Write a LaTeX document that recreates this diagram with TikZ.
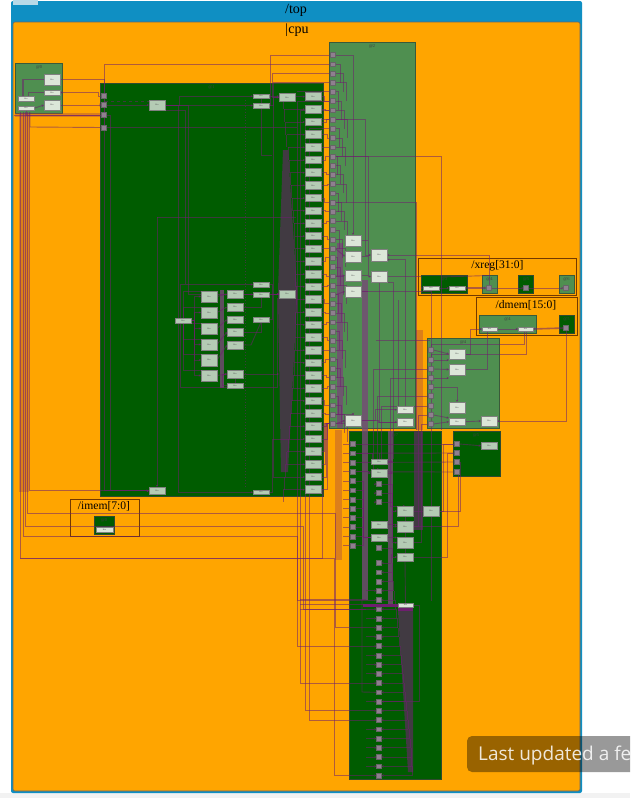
\documentclass[tikz,border=0pt]{standalone}
\usepackage{fontspec}
\setmainfont{Liberation Serif}
\newfontfamily\toastfont{Open Sans}
\usetikzlibrary{arrows.meta}
\pgfdeclarelayer{blocklayer}
\pgfdeclarelayer{wirelayer}
\pgfsetlayers{blocklayer,wirelayer,main}
\definecolor{hdr}{HTML}{0F8FC3}
\definecolor{org}{HTML}{FFA500}
\definecolor{dgreen}{HTML}{005C00}
\definecolor{lgreen}{HTML}{4F8F50}
\definecolor{purp}{HTML}{6E1F6E}
\definecolor{fan}{HTML}{413A42}
\definecolor{sdkfill}{HTML}{B4CBB4}
\definecolor{sltfill}{HTML}{DCE6D8}
\definecolor{ptfill}{HTML}{8F7F8F}
\definecolor{dkedge}{HTML}{2F4A2F}
\definecolor{ltedge}{HTML}{3A5A3A}
\tikzset{
 shp/.style={inner sep=0pt,outer sep=0pt,line width=.8pt},
 dkblk/.style={shp,draw=dkedge,fill=dgreen},
 ltblk/.style={shp,draw=ltedge,fill=lgreen},
 grp/.style={shp,draw=black!55!orange,line width=1pt,fill=org},
 lab/.style={font=\fontsize{4.5}{5}\selectfont,text=black!75,inner sep=0pt},
 sdk/.style={shp,draw=black!50,line width=.8pt,fill=sdkfill,font=\fontsize{2}{2.4}\selectfont,text=black!70,align=center},
 slt/.style={shp,draw=black!50,line width=.8pt,fill=sltfill,font=\fontsize{2}{2.4}\selectfont,text=black!70,align=center},
 pt/.style={shp,draw=black!60,line width=.6pt,fill=ptfill,minimum size=4.8pt},
 wire/.style={draw=purp,line width=.9pt,opacity=.55},
 arr/.style={wire,-{Stealth[length=2.4pt,width=2.6pt,color=purp]}},
 band/.style={fill=purp!55!gray,draw=none,opacity=.8},
 redband/.style={fill=purp!60!orange,draw=none,opacity=.4},
 grpt/.style={font=\fontsize{11.6}{13}\selectfont,inner sep=0pt},
 topt/.style={font=\fontsize{14}{16}\selectfont,inner sep=0pt}
}
\newcommand\blk[7]{\node[#2,minimum width={((#5)-(#3))*1pt},minimum height={((#6)-(#4))*1pt}] (#1) at ({((#3)+(#5))/2},{((#4)+(#6))/2}) {#7};}
\newcommand\hvh[4][wire]{\coordinate (tmpc) at (#3,0);\draw[#1] (#2) -- (#2 -| tmpc) -- (tmpc |- #4) -- (#4);}
\newcommand\vhv[4][wire]{\coordinate (tmpc) at (0,#3);\draw[#1] (#2) -- (#2 |- tmpc) -- (#4 |- tmpc) -- (#4);}
\begin{document}
\begin{tikzpicture}[x=1pt,y=-1pt]
\useasboundingbox (0,0) rectangle (630,798);
\begin{pgfonlayer}{blocklayer}
 \fill[white] (0,0) rectangle (630,798);
 \fill[black!5] (0,793) rectangle (630,798);
 \fill[hdr,rounded corners=2pt] (11,1) rectangle (582,793);
 \fill[black!10!hdr!30!white] (13,0) rectangle (38,5);
 \node[shp,fill=org,draw=black!60,line width=.6pt,rounded corners=2pt,minimum width=567pt,minimum height=769pt] (cpu) at (296.5,406.5) {};
 \blk{xreg}{grp}{418.5}{258.5}{576}{295}{}
 \blk{dmem}{grp}{476}{297.5}{577}{335}{}
 \blk{imem}{grp}{70}{499}{139}{536}{}
 \blk{bk0}{ltblk}{15.5}{63}{62}{113}{}
 \blk{bk1}{dkblk}{100}{83}{323}{496.5}{}
 \blk{bk2}{ltblk}{329}{42}{415.5}{428}{}
 \blk{bk3}{dkblk}{421}{275.5}{467}{293.5}{}
 \blk{bk4}{ltblk}{482.5}{275.5}{497}{293}{}
 \blk{bk5}{dkblk}{518.5}{275.5}{533}{293}{}
 \blk{bk6}{ltblk}{559.5}{275.5}{574}{293}{}
 \blk{bk7}{ltblk}{479.5}{315.5}{536}{333}{}
 \blk{bk8}{dkblk}{559.5}{315.5}{574}{333}{}
 \blk{bk9}{ltblk}{427}{338}{499.5}{428}{}
 \blk{bk10}{dkblk}{349}{431}{441.5}{779}{}
 \blk{bk11}{dkblk}{453}{431}{500}{476}{}
 \blk{bk12}{dkblk}{94}{516.5}{114}{534}{}
\end{pgfonlayer}
% titles
\node[topt] (ttop) at (296,10.5) {/top};
\node[topt] (tcpu) at (297,30.5) {|cpu};
\node[grpt] (txreg) at (497.5,265.5) {/xreg[31:0]};
\node[grpt] (tdmem) at (526,305) {/dmem[15:0]};
\node[grpt] (timem) at (104,506.5) {/imem[7:0]};
\node[lab] (l0) at (39,67) {@0};
\node[lab] (l1) at (211.5,87.5) {@1};
\node[lab] (l2) at (372,46) {@2};
\node[lab] (l3) at (444,279.5) {@3};
\node[lab] (l4) at (489.5,279.5) {@4};
\node[lab] (l5) at (526,279.5) {@5};
\node[lab] (l6) at (566.5,279.5) {@6};
\node[lab] (l7) at (507.5,319.5) {@4};
\node[lab] (l8) at (566.5,319.5) {@5};
\node[lab] (l9) at (463,342) {@4};
\node[lab] (l10) at (395,435) {@7};
\node[lab] (l11) at (476,435) {@5};
\node[lab] (l12) at (104,520) {@0};
% ports
\foreach \i in {0,...,40}{\node[pt] (a\i) at (333,{55+9.22*\i}) {};}
\foreach \i in {0,...,11}{\node[pt] (e\i) at (353,{444+9.24*\i}) {};}
\foreach \i in {0,...,23}{\node[pt] (c\i) at (379,{563+9.24*\i}) {};}
\node[pt] (d0) at (379,484) {};
\node[pt] (d1) at (379,493) {};
\node[pt] (d2) at (379,502) {};
\node[pt] (d3) at (379,548) {};
\node[pt] (p0) at (104,96) {};
\node[pt] (p1) at (104,105) {};
\node[pt] (p2) at (104,115) {};
\node[pt] (p3) at (104,127.5) {};
\node[pt] (x4) at (489,288) {};
\node[pt] (x5) at (526,288) {};
\node[pt] (x6) at (566,288) {};
\node[pt] (y5) at (566,328) {};
\foreach \i/\y in {0/350,1/360,2/369,3/378,4/387,5/396,6/406,7/415,8/424}{\node[pt] (g\i) at (431,\y) {};}
\foreach \i/\y in {0/444,1/453,2/462,3/472}{\node[pt] (h\i) at (457,\y) {};}
% small nodes
\foreach \i in {0,...,31}{\blk{r\i}{sdk}{305}{96.6+12.68*\i-3.8}{321}{96.6+12.68*\i+3.8}{Bits}}
\blk{t1}{slt}{44}{74}{60}{85}{Bits}
\blk{t2}{slt}{44}{90}{60}{95}{Bits}
\blk{t3}{slt}{44}{100}{60}{110}{Bits}
\blk{l1n}{slt}{18}{96.5}{34}{101}{Bits}
\blk{l2n}{slt}{18}{106}{34}{110.5}{Bits}
\blk{im}{slt}{96}{527}{113}{532}{Bits}
\blk{m1}{sdk}{149}{100}{165}{110}{Bits}
\blk{s1}{sdk}{253}{94}{269}{98.5}{Bits}
\blk{s2}{sdk}{253}{103}{269}{108}{Bits}
\blk{s3}{sdk}{253}{282}{269}{287}{Bits}
\blk{s4}{sdk}{253}{292}{269}{297}{Bits}
\blk{s5}{sdk}{253}{317}{269}{322}{Bits}
\blk{s6}{sdk}{253}{490}{269}{494.5}{Bits}
\blk{f0}{sdk}{279}{93.5}{295}{101.5}{Bits}
\blk{f1}{sdk}{279}{290}{295}{298}{Bits}
\blk{k0}{sdk}{175}{318}{191}{323}{Bits}
\blk{v1}{sdk}{149}{487}{165}{494.5}{Bits}
\foreach \i/\a/\b in {0/291/302,1/307/318,2/323/334,3/339/350,4/354/366,5/370/381}{\blk{mx\i}{sdk}{201}{\a}{217}{\b}{Bits}}
\foreach \i/\a/\b in {0/290/298,1/303/311,2/316/323,3/328/336,4/341/349,5/370/378,6/383/388}{\blk{dx\i}{sdk}{227}{\a}{243}{\b}{Bits}}
\blk{ua}{slt}{345}{235}{361}{246}{Bits}
\blk{ub}{slt}{345}{251}{361}{262}{Bits}
\blk{uc}{slt}{345}{270}{361}{281}{Bits}
\blk{ud}{slt}{345}{286}{361}{297}{Bits}
\blk{ue}{slt}{371}{249}{387}{261}{Bits}
\blk{uf}{slt}{371}{271}{387}{282}{Bits}
\blk{ug}{slt}{345}{415}{361}{426}{Bits}
\blk{uh}{slt}{397}{406}{413}{413.5}{Bits}
\blk{ui}{slt}{397}{418}{413}{426}{Bits}
\blk{xa}{slt}{423}{286}{439}{290}{Bits}
\blk{xb}{slt}{449}{286}{465}{290}{Bits}
\blk{ya}{slt}{482}{327}{497}{331}{Bits}
\blk{yb}{slt}{518}{327}{533}{331}{Bits}
\blk{na}{slt}{449}{349}{465}{359}{Bits}
\blk{nb}{slt}{449}{364}{465}{375}{Bits}
\blk{nc}{slt}{449}{402}{465}{413}{Bits}
\blk{nd}{slt}{449}{418}{465}{425.5}{Bits}
\blk{ne}{slt}{481}{416}{497}{426}{Bits}
\blk{q1}{sdk}{481}{442}{497}{449.5}{Bits}
\blk{w1}{sdk}{371}{459}{387}{464}{Bits}
\blk{w2}{sdk}{371}{469}{387}{477}{Bits}
\blk{w3}{sdk}{371}{521}{387}{528.5}{Bits}
\blk{w4}{sdk}{371}{534}{387}{541}{Bits}
\blk{w5}{sdk}{397}{506}{413}{516}{Bits}
\blk{w6}{sdk}{397}{521}{413}{532}{Bits}
\blk{w7}{sdk}{397}{537.5}{413}{548}{Bits}
\blk{w8}{sdk}{397}{553}{413}{561}{Bits}
\blk{w9}{sdk}{423}{506}{439}{516}{Bits}
\blk{w10}{slt}{398}{603}{413}{607}{Bits}
\begin{pgfonlayer}{wirelayer}
 % fans and bundles
 \fill[fan] (283,150) -- (288,150) -- (297,290) -- (297,300) -- (288,472) -- (281,472) -- (278,300) -- (278,290) -- cycle;
 \fill[fan] (398,611) -- (413,611) -- (413,772) -- (408,772) -- cycle;
 \fill[fan] (414,431) rectangle (423,530);
 \fill[purp] (398,607) rectangle (413,611);
 \fill[purp] (363,604) rectangle (398,607);
 \fill[band] (337,243) rectangle (343,428);
 \fill[band] (362,280) rectangle (368,600);
 \fill[band] (388,431) rectangle (393,604);
 \fill[band] (220,290) rectangle (224,388);
 \fill[redband] (416,330) rectangle (423,430);
 \fill[redband] (335,430) rectangle (342,560);
 \fill[redband] (19,113) rectangle (29,492);
 \fill[redband] (15,113) rectangle (100,117);
 % u1 column
 \foreach \i in {0,...,31}{
  \pgfmathsetmacro\yy{96.6+12.68*\i}
  \pgfmathsetmacro\xs{283+13*sin(\i/31*180)}
  \coordinate (fs\i) at (\xs,\yy);
  \coordinate (ft\i) at (\xs,\yy+12.68);
  \draw[arr] (fs\i) -- (r\i.west);
  \draw[wire] (fs\i) -- (ft\i);
  \pgfmathtruncatemacro\jj{min(40,round((\yy-55)/9.22))}
  \pgfmathsetmacro\xv{324.5+mod(\i,4)}
  \hvh{r\i.east}{\xv}{a\jj.west}
 }
 % u2 stairs
 \foreach \i in {1,...,40}{
  \pgfmathsetmacro\xs{337+mod(\i*3,11)}
  \coordinate (as\i) at (\xs,{55+9.22*\i});
  \coordinate (at\i) at (\xs,{55+9.22*(\i+2)});
  \draw[wire] (a\i.east) -- (as\i) -- (at\i);
 }
 % u10
 \draw[wire,line width=1.1pt] (l1n.north) ++(-3,0) |- (t1.west);
 \draw[wire] (l1n.north) ++(2,0) |- (t2.west);
 \draw[arr,line width=1pt] (l2n.east) -- (t3.west);
 \draw[wire] (t1.east) -| (p0.north);
 \draw[arr] (p0.west) -- ++(-3,0) |- (t2.east);
 \draw[arr] (t3.east) -- (p1.west);
 \draw[wire] (l2n.south) |- (p2.west);
 \coordinate (bn0) at (14,115);
 \draw[wire] (bn0) -- (p2.west);
 \coordinate (bn1) at (20,112);\coordinate (bn2) at (23,112);\coordinate (bn3) at (25,112);\coordinate (bn4) at (27,112);\coordinate (bn5) at (29,112);\coordinate (bn6) at (30,112);
 \coordinate (z1) at (20,558);\coordinate (z2) at (334,558);\draw[wire] (bn1) -- (z1) -- (z2);\draw[arr] (z2) |- (c23.west);
 \coordinate (z3) at (23,536);\coordinate (z4) at (297,536);\draw[wire] (bn2) -- (z3) -- (z4);\draw[arr] (z4) |- (c4.west);
 \coordinate (z5) at (25,526);\coordinate (z6) at (303,526);\draw[wire] (bn3) -- (z5) -- (z6);\draw[arr] (z6) |- (c5.west);
 \coordinate (z7) at (27,513);\coordinate (z8) at (335,513);\draw[wire] (bn4) -- (z7) -- (z8);\draw[arr] (z8) |- (c7.west);
 \draw[arr] (bn5) |- (v1.west);
 \coordinate (z9) at (30,127);\draw[wire] (bn6) -- (z9) -- (p3.west);
 % u2 to top of u1
 \draw[wire] (a1.west) -| (p3.north);
 \hvh{a0.west}{270}{s2.east}
 \hvh{a2.west}{272}{f0.west}
 \hvh{a3.west}{273}{fs30}
 \coordinate (z10) at (297,125);\draw[wire] (a4.west) -- (a4.west -| z10);
 \hvh[arr]{a5.west}{297}{c9.west}
 \hvh[arr]{a6.west}{300}{c13.west}
 \hvh[arr]{a7.west}{305}{c16.west}
 \hvh[arr]{a8.west}{309}{c17.west}
 \hvh{r31.east}{322}{z1}
 % u1 interior
 \draw[arr] (p0.south) |- (v1.west);
 \draw[arr] (p1.east) -- (m1.west);
 \hvh[arr]{p2.east}{110.7}{v1.west}
 \draw[wire] (p3.east) -- (p3.east -| z10);
 \coordinate (z11) at (105,101);\draw[wire,dashed,line width=.4pt] (z11) -- (z11 -| m1.west);
 \hvh[arr]{m1.east}{179}{s1.west}
 \hvh[arr]{m1.east}{182}{s2.west}
 \hvh[arr]{m1.east}{178}{s6.west}
 \hvh[arr]{m1.south}{185}{s3.west}
 \hvh[arr]{m1.east}{188}{s4.west}
 \draw[arr] (s1.east) -- (s1.east -| f0.west);
 \hvh[arr]{s2.east}{273}{f0.west}
 \hvh[arr]{s3.east}{272}{f1.west}
 \hvh[arr]{s4.east}{276}{f1.west}
 \hvh{s5.east}{272}{f1.west}
 \coordinate (z12) at (157,217);\coordinate (z13) at (296,217);\draw[wire] (z13) -- (z12);\draw[arr] (z12) -- (v1.north);
 \hvh{s6.east}{272}{ft26}
 \coordinate (z14) at (261,97);\coordinate (z15) at (261,155);\coordinate (z16) at (272,155);\draw[wire] (z14) -- (z15) -- (z16);
 \coordinate (z17) at (245,100);\coordinate (z18) at (245,487);\draw[wire,dotted,line width=.5pt] (z17) -- (z18);
 \coordinate (z19) at (180,387);\coordinate (z20) at (277,387);\draw[wire] (z19) -- (z20) -- (z20 |- f1.south);
 \coordinate (z21) at (185,284);\draw[wire] (z19) -- (z19 |- z21) -- (z21);
 \foreach \i in {0,...,5}{
  \hvh[arr]{k0.east}{194}{mx\i.west}
  \draw[arr] (mx\i.east) -- (dx\i.west);
  \hvh{k0.west}{183}{mx\i.north west}
 }
 \draw[arr] (dx5.east) -- (dx5.east -| f1.west);
 \draw[wire] (dx0.east) -- (f1.west);
 \draw[wire] (dx1.east) -| (s4.south);
 \draw[wire] (dx3.east) -| (s5.south);
 \draw[wire] (dx4.east) -- ++(8,0) -- (s5.south);
 \draw[arr] (dx6.west) -- ++(-5,0) |- (dx5.west);
 \draw[wire] (dx6.north) -- (dx5.south);
 % u2 interior
 \draw[arr] (a0.east) -| (ua.north);
 \hvh[arr]{a7.east}{365}{ue.west}
 \hvh[arr]{a11.east}{368}{uf.west}
 \coordinate (z22) at (441,430);\coordinate (z23) at (416,430);
 \hvh{a11.east}{441}{z22}
 \hvh{a16.east}{416}{z23}
 \draw[arr] (a21.east) -- (ub.west);
 \draw[arr] (a24.east) -- (uc.west);
 \draw[arr] (a26.east) -- (ud.west);
 \draw[arr] (a40.east) -- (ug.west);
 \draw[arr] (a39.east) -| (ug.north);
 \draw[wire] (ub.east) -- ++(7,0);
 \draw[wire] (ua.east) -- ++(7,0);
 \draw[wire] (uc.east) -- ++(7,0);
 \draw[wire] (ud.east) -- ++(7,0);
 \draw[arr] (x4.north) |- (ue.east);
 \draw[arr] (uh.north) |- (ue.-30);
 \draw[wire] (uf.east) -- (uf.east -| bk3.west);
 \draw[wire] (uf.south) -- (uf.south |- ui.west) -- (ui.west);
 \draw[wire] (ud.east) -| (w9.north);
 \coordinate (z24) at (376,340);\coordinate (z25) at (430,340);\draw[wire] (z24) -- (z25);
 \coordinate (z26) at (398,300);\draw[wire] (z26) -- (z26 |- uh.west);
 \hvh[arr]{ug.east}{375}{uh.west}
 \hvh[arr]{ug.east}{378}{ui.west}
 \coordinate (z27) at (393,281);\draw[wire] (uf.-60) -| (z27 |- w1.north);
 % xreg, dmem
 \draw[arr,line width=1pt] (xa.east) -- (xb.west);
 \draw[arr,line width=1.6pt] (xb.east) -- (x4.west);
 \draw[arr] (x4.east) -- (x5.west);
 \draw[arr] (x5.east) -- (x6.west);
 \draw[wire] (bk3.north east) ++(-26,1.5) -- (x4.north |- bk3.north);
 \draw[arr] (bk3.west |- xa.west) -- (xa.west);
 \draw[arr] (ya.east) -- (yb.west);
 \draw[arr,line width=1.6pt] (y5.west) -- (yb.east);
 \hvh[arr]{nb.east}{487}{ya.south}
 \coordinate (z28) at (470,350);\draw[arr] (z28) |- (ya.west);
 \vhv{yb.-110}{344}{g0.north}
 \vhv{yb.-70}{354}{g1.north}
 \draw[arr] (y5.south) |- (ne.east);
 % u14
 \draw[arr] (g0.east) -- (na.west);
 \draw[arr] (g1.east) -- (g1.east -| na.west);
 \draw[arr] (g2.east) -- (nb.west);
 \draw[arr] (g3.east) -- (g3.east -| nb.west);
 \draw[arr] (g4.east) -| (nc.north);
 \draw[arr] (g7.east) -- (nd.north west);
 \draw[arr] (g8.east) -- (nd.west);
 \draw[arr] (nd.east) -- (ne.west);
 \draw[wire] (na.east) -- (na.east -| z28) -- (z28);
 \hvh[arr]{g2.west}{373}{w2.north}
 \hvh[arr]{g3.west}{390}{w5.north}
 \hvh{g5.west}{377}{w1.north}
 \hvh{g6.west}{381}{w1.north}
 \hvh{g7.west}{418}{w6.east}
 \hvh{g8.west}{421}{w7.east}
 % u7 and u15
 \draw[arr] (h0.east) -- (q1.west);
 \foreach \i in {0,...,3}{\draw[wire] (e\i.east) -- (h\i.west);}
 \hvh{h3.south}{458}{w6.east}
 \hvh{h2.east}{460}{w5.east}
 \hvh{h1.east}{447}{w8.east}
 \hvh{h0.west}{443}{w9.east}
 \foreach \i in {4,...,11}{\hvh{e\i.east}{363}{w4.west}}
 \foreach \i in {0,...,11}{\draw[wire] (e\i.west) -- ++(-8,0);}
 \hvh[arr]{e3.east}{368}{w2.west}
 \hvh[arr]{e1.east}{372}{w1.west}
 \draw[wire] (w1.north) -- ++(0,-6);
 \hvh[arr]{d0.east}{392}{w6.west}
 \hvh[arr]{d1.east}{392}{w7.west}
 \hvh[arr]{d2.east}{392}{w5.west}
 \hvh[arr]{d3.east}{392}{w8.west}
 \draw[arr] (w3.east) -- (w3.east -| w5.west);
 \draw[arr] (w4.east) -- (w4.east -| w7.west);
 \draw[arr] (w1.east) -- ++(6,0);
 \draw[arr] (w2.east) -- ++(6,0);
 \draw[wire] (w9.south) -- ++(0,85);
 \draw[wire] (w5.south) -- (w6.north);
 \draw[wire] (w6.south) -- (w7.north);
 \draw[wire] (w7.south) -- (w8.north);
 \draw[wire] (w8.south) -- (w10.north);
 \foreach \i in {0,...,23}{
  \pgfmathsetmacro\yy{563+9.24*\i}
  \pgfmathsetmacro\xs{min(412,391+\i*0.95)}
  \coordinate (cs\i) at (\xs,\yy);
  \coordinate (ct\i) at (\xs,\yy-9.24);
  \draw[arr] (cs\i) -- (c\i.east);
  \draw[wire] (cs\i) -- (ct\i);
 }
 \hvh{w10.east}{419}{c15.east}
 \coordinate (z30) at (362,600);\coordinate (z31) at (362,692);\draw[wire] (z30) -- (z31) -- (c14.west);
 \coordinate (z40) at (366,0);
 \foreach \i in {3,6,8,10,11,12,15,18,19,20,21,22}{\draw[arr] (c\i.west -| z40) -- (c\i.west);}
 \coordinate (z42) at (374,0);
 \foreach \i in {0,1,2}{\draw[arr] (d\i.west -| z42) -- (d\i.west);}
 \foreach \i in {0,1,2}{\coordinate (hz\i) at (300,{599+\i*5});\draw[wire] (hz\i) -- (hz\i -| z40);}
\end{pgfonlayer}
% toast
\begin{scope}
 \clip (0,0) rectangle (630,798);
 \fill[black,opacity=.4,rounded corners=5pt] (467,736) rectangle (660,772);
 \node[anchor=west,inner sep=0pt,text=white,opacity=.85,font=\toastfont\fontsize{19}{22}\selectfont] (toast) at (478,756) {Last updated a fe};
\end{scope}
\end{tikzpicture}
\end{document}
